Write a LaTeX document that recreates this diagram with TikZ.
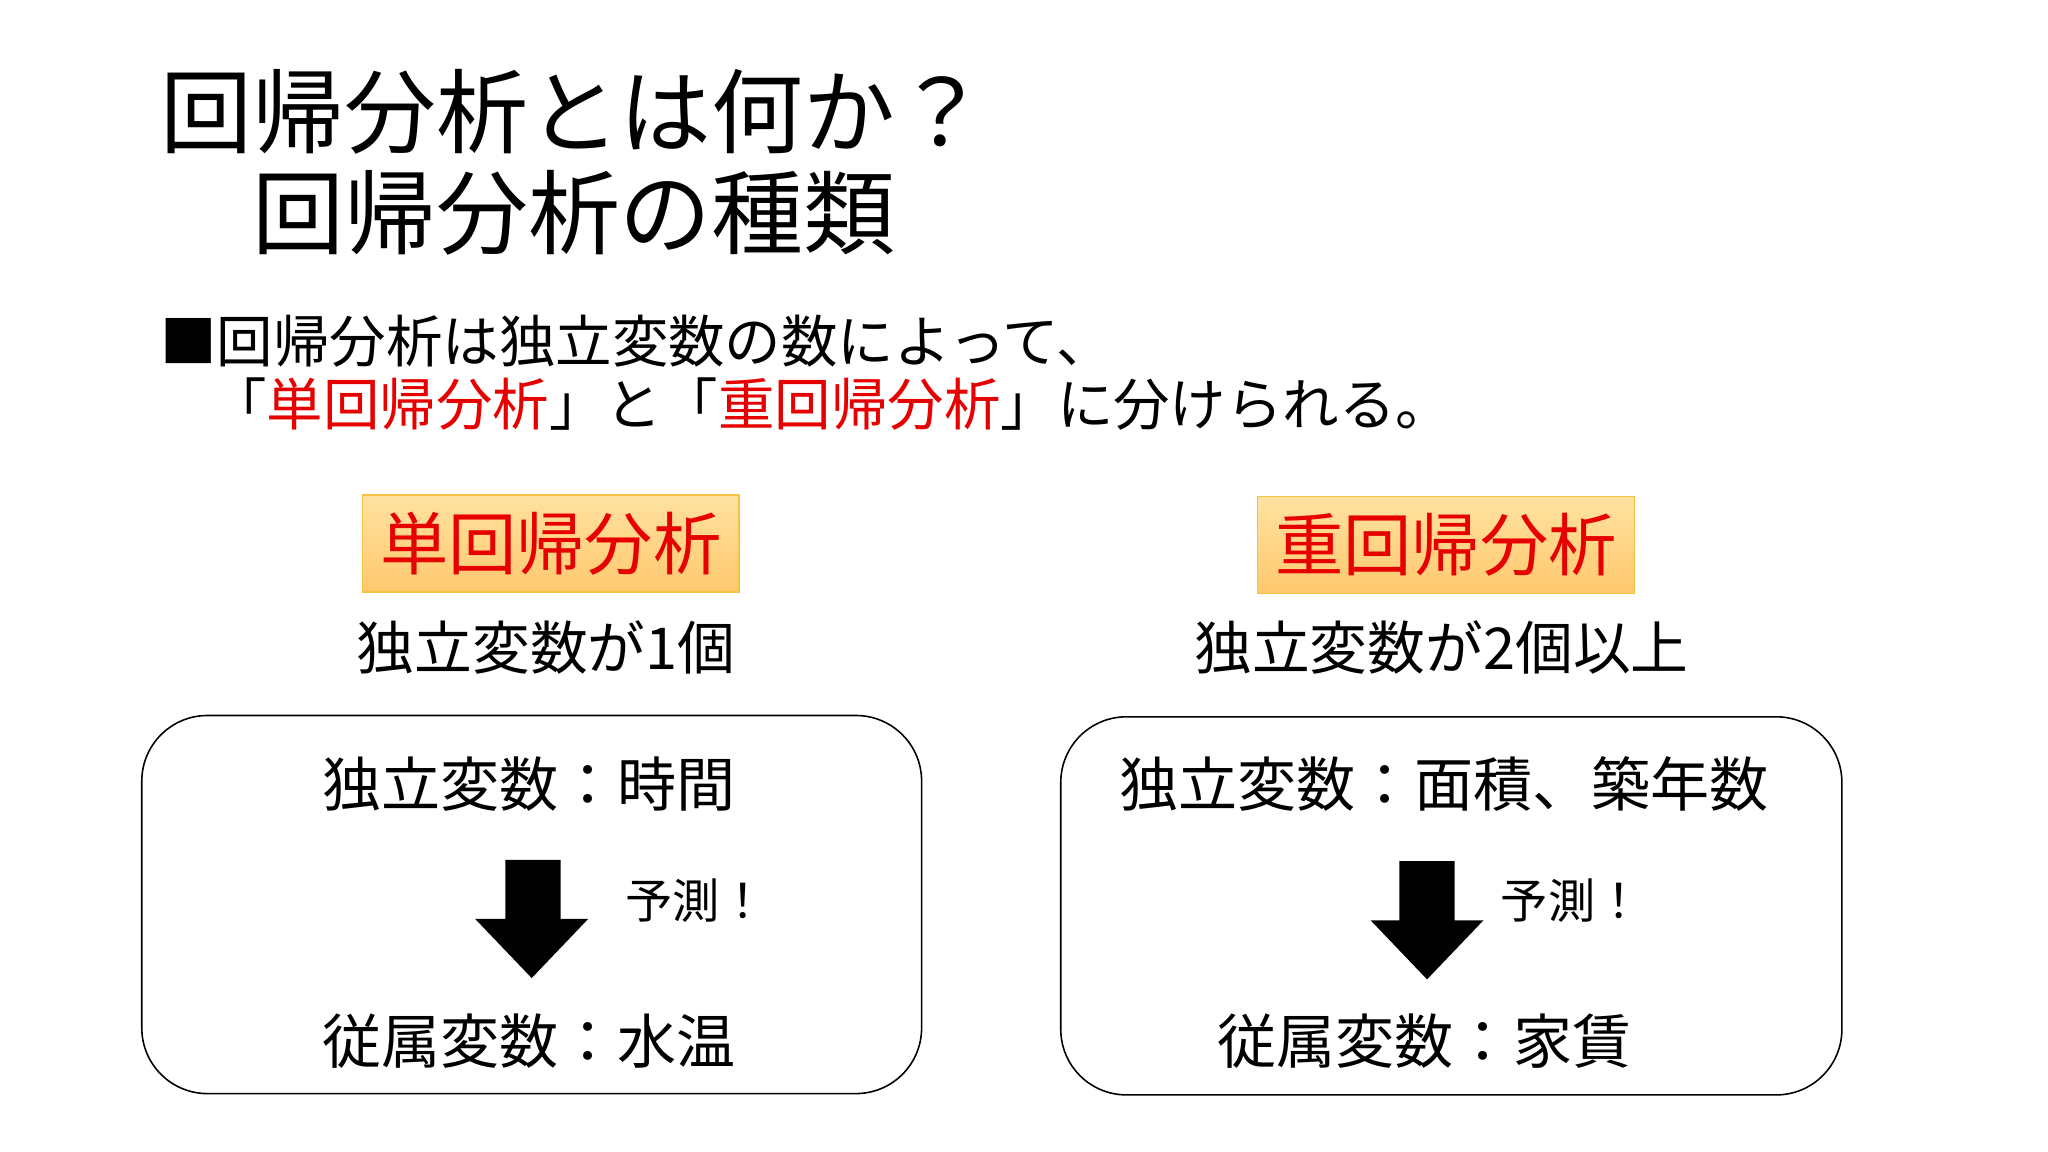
\documentclass[tikz,border=0pt]{standalone}
\usepackage{fontspec}
\setmainfont{Noto Sans CJK JP}
\begin{document}
\begin{tikzpicture}[x=1pt,y=-1pt,
  fs/.style={font=\fontsize{#1}{#1}\selectfont,inner sep=0pt},
  obox/.style={draw={rgb,255:red,245;green,194;blue,66},line width=1pt,top color={rgb,255:red,255;green,226;blue,160},bottom color={rgb,255:red,255;green,200;blue,110},minimum width=287,minimum height=74,text={rgb,255:red,230;green,0;blue,0},font=\fontsize{52}{52}\selectfont,inner sep=0pt},
  rbox/.style={draw,line width=1.2pt,rounded corners=50pt},
  bigarrow/.style={fill=black}]
\useasboundingbox (0,0) rectangle (1560,877.5);
\definecolor{myred}{RGB}{230,0,0}
\node[fs=70,anchor=west] (t1) at (122,85) {回帰分析とは何か？};
\node[fs=70,anchor=west] (t2) at (192,162) {回帰分析の種類};
\node[fs=43,anchor=west] (b1) at (122,260) {■回帰分析は独立変数の数によって、};
\node[fs=43,anchor=west] (b2) at (160,308) {「\textcolor{myred}{単回帰分析}」と「\textcolor{myred}{重回帰分析}」に分けられる。};
\node[obox] (L) at (419.5,414) {単回帰分析};
\node[obox] (R) at (1101.5,415) {重回帰分析};
\node[fs=44] (Ls) at (416,493) {独立変数が1個};
\node[fs=44] (Rs) at (1098,493) {独立変数が2個以上};
\draw[rbox] (108,545) rectangle (702,833);
\draw[rbox] (808,546) rectangle (1403,834);
\node[fs=45] (Li) at (403,597) {独立変数：時間};
\node[fs=45] (Lo) at (403,793) {従属変数：水温};
\node[fs=45] (Ri) at (1100,597) {独立変数：面積、築年数};
\node[fs=45] (Ro) at (1085,793) {従属変数：家賃};
\fill[bigarrow] (385,655) -- (427,655) -- (427,700) -- (448,700) -- (405,745) -- (362,700) -- (385,700) -- cycle;
\fill[bigarrow] (1066,656) -- (1108,656) -- (1108,701) -- (1130,701) -- (1087,746) -- (1044,701) -- (1066,701) -- cycle;
\node[fs=36,anchor=west] (Lp) at (476,686) {予測！};
\node[fs=36,anchor=west] (Rp) at (1143,686) {予測！};
\end{tikzpicture}
\end{document}
